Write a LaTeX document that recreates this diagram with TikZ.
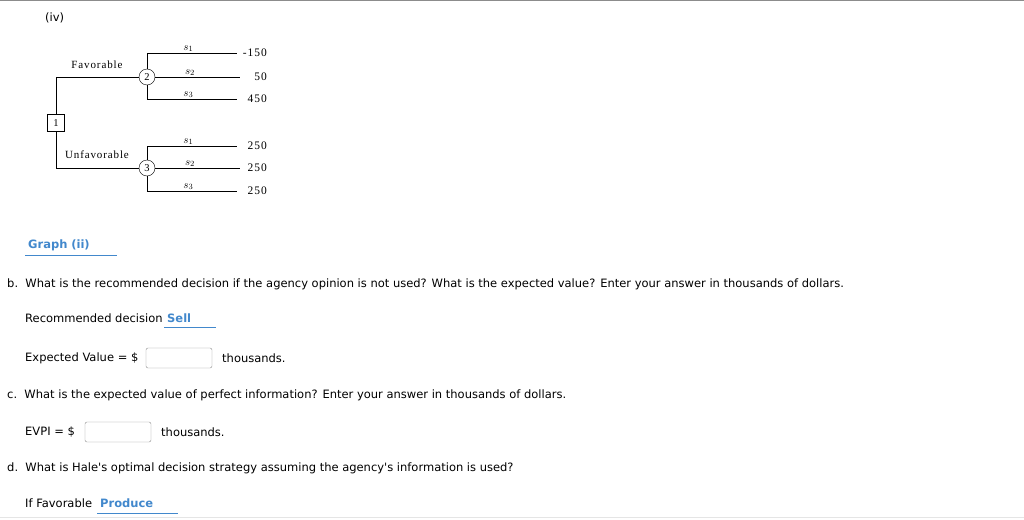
\documentclass[tikz,border=0pt]{standalone}
\usepackage{fontspec}
\setmainfont{DejaVu Sans}
\newfontfamily\treefont[LetterSpace=8]{Liberation Serif}
\usepackage{xcolor}
\usetikzlibrary{positioning}
\definecolor{linkblue}{RGB}{66,136,204}
\definecolor{boxgray}{RGB}{140,140,140}
\definecolor{rulegray}{RGB}{140,140,140}

\begin{document}
\begin{tikzpicture}[x=1pt, y=-1pt,
    decision/.style={draw, rectangle, minimum size=17pt, inner sep=0pt, font=\treefont\fontsize{10.5}{12}\selectfont},
    chance/.style={draw, circle, minimum size=16pt, inner sep=0pt, font=\treefont\fontsize{10.5}{12}\selectfont},
    payoff/.style={anchor=east, inner sep=0pt, font=\treefont\fontsize{11.5}{13}\selectfont},
    branchlabel/.style={inner sep=1pt, font=\treefont\fontsize{11}{13}\selectfont},
    slabel/.style={above, inner sep=1pt, font=\fontsize{11}{12}\selectfont},
    qtext/.style={anchor=west, inner sep=0pt, font=\fontsize{11.5}{13}\selectfont},
    answer/.style={anchor=west, inner ysep=0pt, inner xsep=3pt, align=left,
        text=linkblue, font=\fontsize{11.5}{13}\selectfont\bfseries},
    inputbox/.style={draw=boxgray, rounded corners=2pt, minimum width=66pt, minimum height=20pt, inner sep=0pt}]
    \useasboundingbox (0,0) rectangle (1024,519);
    \draw[rulegray, line width=1pt] (0,0.5) -- (1024,0.5);
    \draw[black!10, line width=1pt] (0,517.5) -- (1024,517.5);

    % decision tree
    \node[qtext] (iv) at (45,18) {(iv)};
    \node[decision] (1) at (56,123) {1};
    \node[chance] (2) at (147,77) {2};
    \node[chance] (3) at (147,168) {3};
    \coordinate (e21) at (237,53);
    \coordinate (e22) at (240,77);
    \coordinate (e23) at (237,99);
    \coordinate (e31) at (237,146);
    \coordinate (e32) at (240,168);
    \coordinate (e33) at (237,191);
    \node[payoff] (p21) at (267,53) {-150};
    \node[payoff] (p22) at (267,77) {50};
    \node[payoff] (p23) at (267,99) {450};
    \node[payoff] (p31) at (267,146) {250};
    \node[payoff] (p32) at (267,168) {250};
    \node[payoff] (p33) at (267,191) {250};
    \node[branchlabel] (fav) at (97,65) {Favorable};
    \node[branchlabel] (unfav) at (97,155) {Unfavorable};

    \draw (1) |- (2);
    \draw (1) |- (3);
    \draw (2) |- node[slabel, pos=0.73] {$s_1$} (e21);
    \draw (2) -- node[slabel, pos=0.41] {$s_2$} (e22);
    \draw (2) |- node[slabel, pos=0.73] {$s_3$} (e23);
    \draw (3) |- node[slabel, pos=0.73] {$s_1$} (e31);
    \draw (3) -- node[slabel, pos=0.41] {$s_2$} (e32);
    \draw (3) |- node[slabel, pos=0.73] {$s_3$} (e33);

    % questions
    \node[answer, text width=86pt, minimum height=20pt] (graph) at (25,245) {Graph (ii)};
    \draw[linkblue, line width=1pt] (graph.south west) -- (graph.south east);

    \node[qtext] (qb) at (7,284) {b.\ \ What is the recommended decision if the agency opinion is not used? What is the expected value? Enter your answer in thousands of dollars.};
    \node[qtext] (recdec) at (25,318) {Recommended decision};
    \node[answer, text width=46pt, minimum height=18pt] (sell) at (164,318) {Sell};
    \draw[linkblue, line width=1pt] (sell.south west) -- (sell.south east);

    \node[qtext] (ev) at (25,358) {Expected Value = \$};
    \node[inputbox] (evbox) at (179,358) {};
    \node[qtext] (evunit) at (222,358) {thousands.};

    \node[qtext] (qc) at (7,395) {c.\ \ What is the expected value of perfect information? Enter your answer in thousands of dollars.};
    \node[qtext] (evpi) at (25,432) {EVPI = \$};
    \node[inputbox] (evpibox) at (118,432) {};
    \node[qtext] (evpiunit) at (161,432) {thousands.};

    \node[qtext] (qd) at (7,468) {d.\ \ What is Hale\textquotesingle s optimal decision strategy assuming the agency\textquotesingle s information is used?};
    \node[qtext] (iffav) at (25,503) {If Favorable};
    \node[answer, text width=75pt, minimum height=20pt] (produce) at (97,503) {Produce};
    \draw[linkblue, line width=1pt] (produce.south west) -- (produce.south east);
\end{tikzpicture}
\end{document}
